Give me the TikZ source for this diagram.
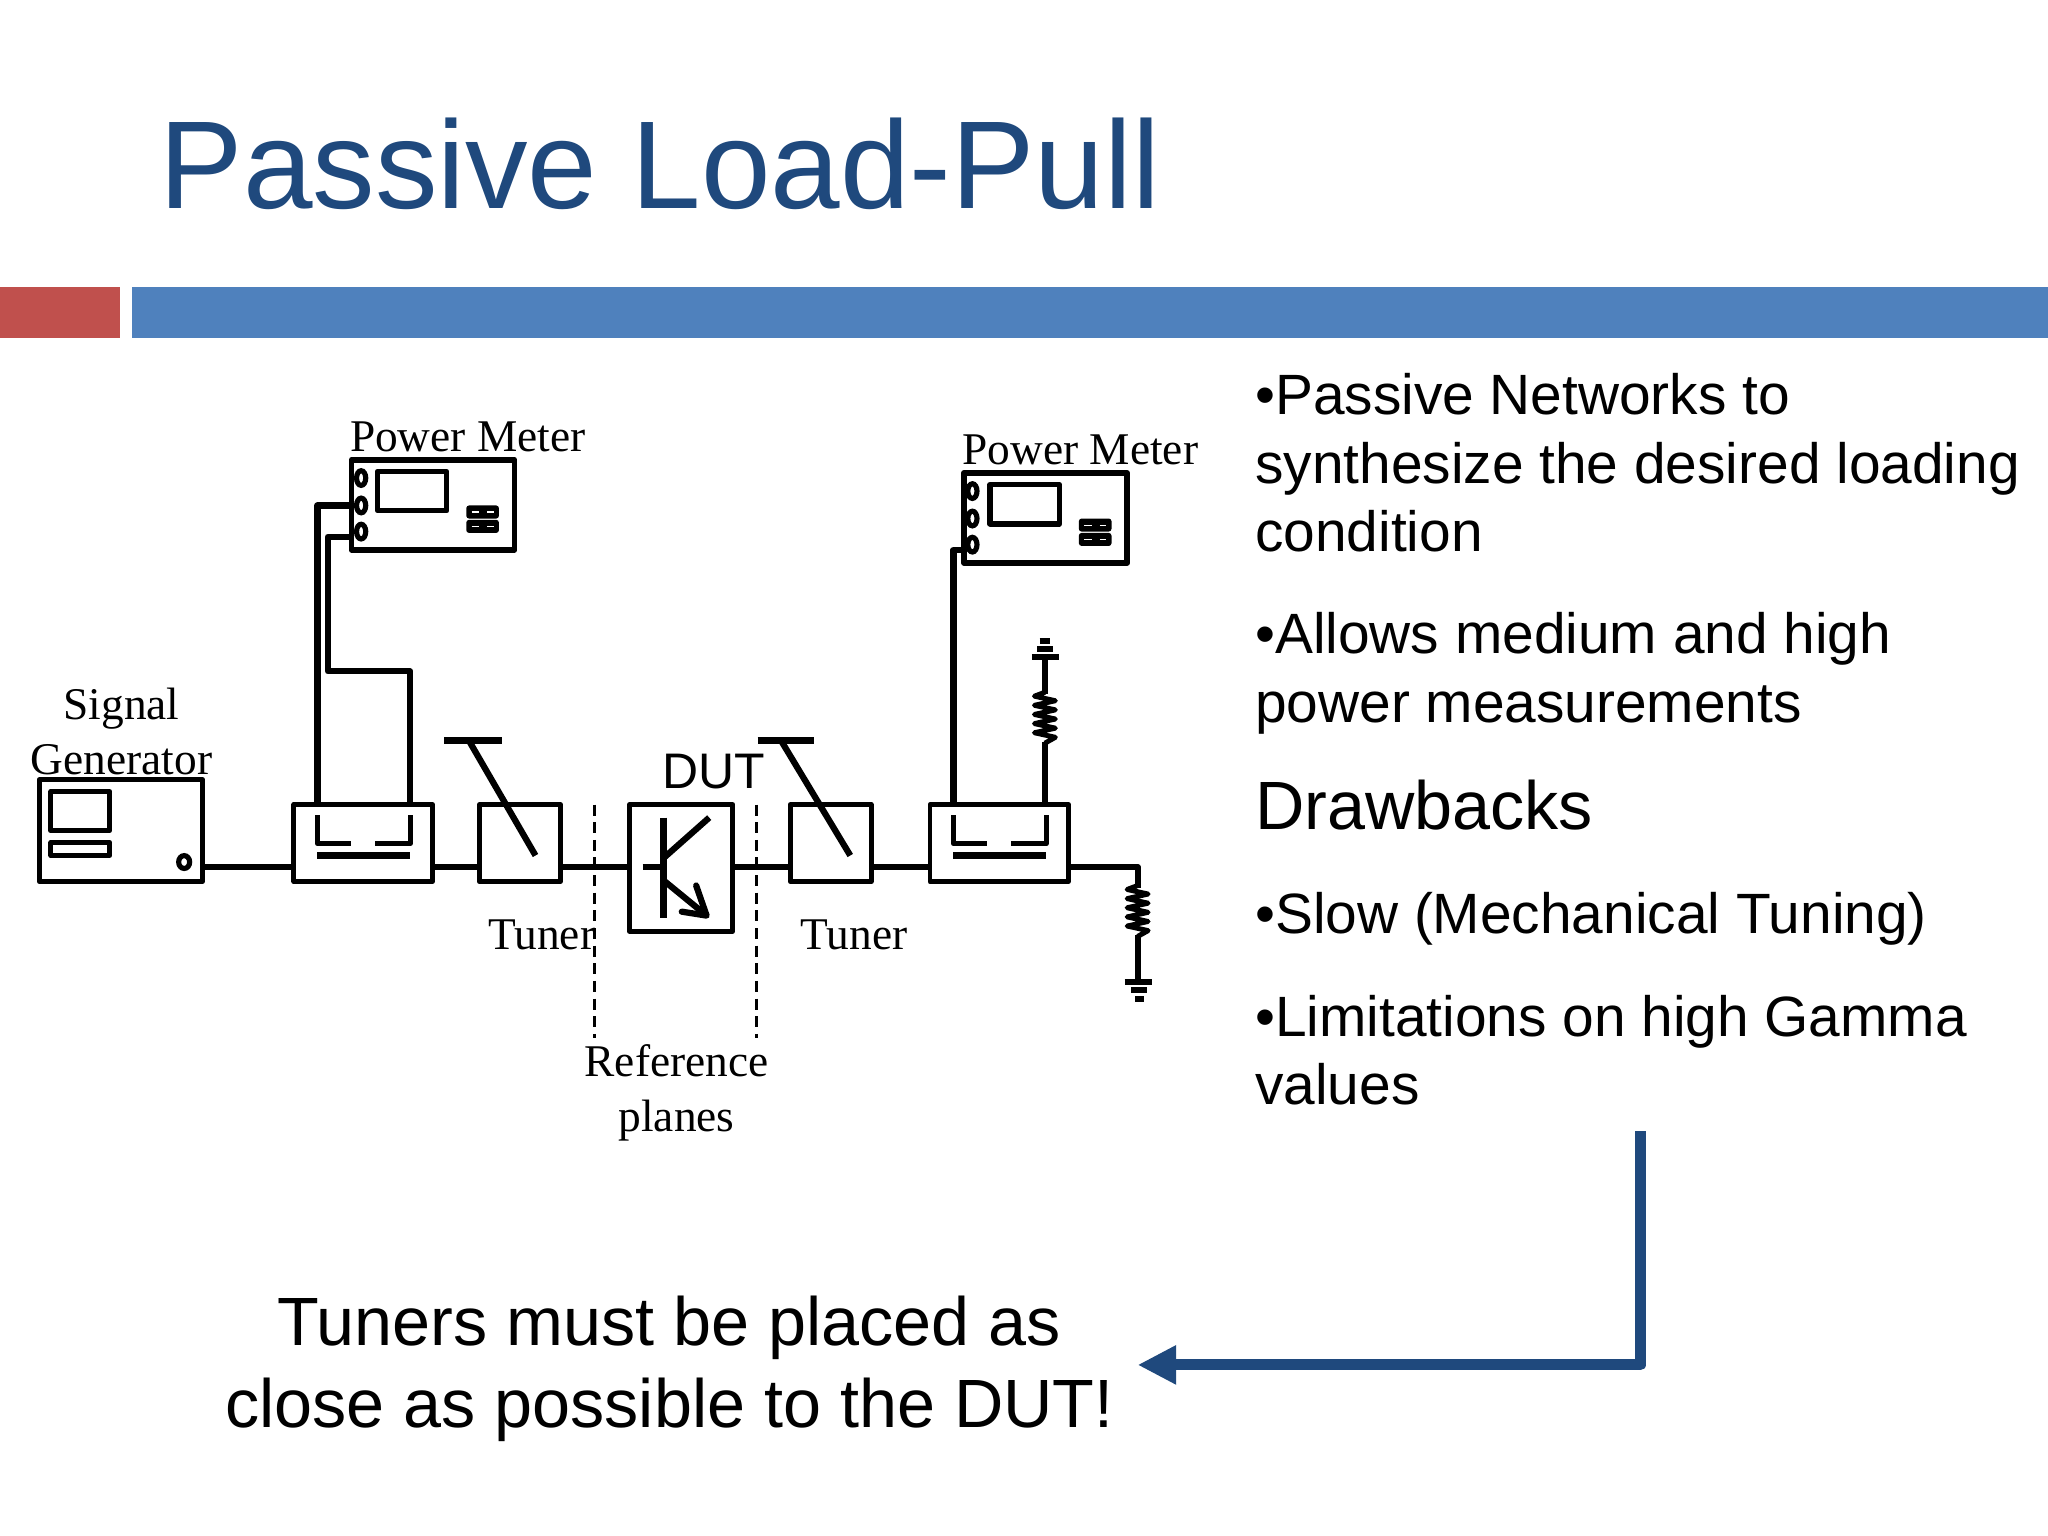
\documentclass[tikz,border=0pt]{standalone}
\usepackage{fontspec}
\setmainfont{Liberation Sans}
\newfontfamily\serifface{Liberation Serif}
\usetikzlibrary{arrows.meta,shapes.geometric}
\definecolor{titleblue}{HTML}{1F497D}
\definecolor{barblue}{HTML}{4F81BD}
\definecolor{barred}{HTML}{C0504D}
\tikzset{
  eq/.style={draw=black,line width=2.6pt,line join=round,inner sep=0pt,outer sep=0pt,fill=white},
  mbox/.style={eq,line width=3pt},
  sz/.style 2 args={minimum width=#1*0.025cm,minimum height=#2*0.025cm},
  wire/.style={draw=black,line width=3.4pt,line join=round},
  mwire/.style={draw=black,line width=3.4pt,line join=round},
  thinw/.style={draw=black,line width=2.7pt,line join=round},
  refline/.style={draw=black,line width=1.7pt,dash pattern=on 6pt off 3.6pt},
  lab/.style={font=\serifface\fontsize{24.7}{29.5}\selectfont,inner sep=0pt,outer sep=0pt,text=black},
  bodytxt/.style={font=\fontsize{30.95}{37.3}\selectfont,inner sep=0pt,outer sep=0pt,anchor=base west,align=left,text=black},
  big/.style={font=\fontsize{37.2}{45}\selectfont,inner sep=0pt,outer sep=0pt,text=black},
  port/.style={ellipse,draw=black,line width=2.8pt,fill=white,minimum width=5pt,minimum height=8pt,inner sep=0pt,outer sep=0pt},
}
\newcommand{\meter}[3]{%
  \node[mbox,sz={125}{69},anchor=north west] (#1) at (#2,#3) {};
  \begin{scope}[shift={(#2,#3)}]
    \draw[thinw,line width=3pt] (20,9) rectangle (73,39);
    \fill[black,rounded corners=1.5pt] (88,35) rectangle (113,45);
    \fill[black,rounded corners=1.5pt] (88,46) rectangle (113,56);
    \draw[white,line width=0.6pt] (92,40)--(98,40) (104,40)--(109,40) (92,51)--(98,51) (104,51)--(109,51);
  \end{scope}}
\newcommand{\ports}[3]{%
  \begin{scope}[shift={(#2,#3)}]
    \node[port] (#1a) at (7.5,14) {};
    \node[port] (#1b) at (7.5,35) {};
    \node[port] (#1c) at (7.5,55) {};
  \end{scope}}
\newcommand{\coupler}[3]{%
  \node[eq,sz={106}{59},anchor=north west] (#1) at (#2,#3) {};
  \begin{scope}[shift={(#2,#3)}]
    \draw[thinw] (18,8) -- (18,30) -- (44,30);
    \draw[thinw] (89,8) -- (89,30) -- (62,30);
    \draw[line width=3.4pt] (18,39) -- (89,39);
  \end{scope}}
\newcommand{\resist}[2]{%
  \begin{scope}[shift={(#1,#2)}]
    \draw[thinw] (0,-2) -- (-8,1) -- (8,4.5) -- (-8,8) -- (8,11.5) -- (-8,15) -- (8,18.5) -- (-8,22) -- (8,25.5) -- (-8,29) -- (8,32.5) -- (0,37);
  \end{scope}}
\begin{document}
\begin{tikzpicture}[x=0.025cm,y=-0.025cm]
\useasboundingbox (0,0) rectangle (1568,1176);
\fill[white] (0,0) rectangle (1568,1176);
% title and bars
\node[font=\fontsize{68.05}{80}\selectfont,text=titleblue,anchor=base west,inner sep=0pt] (title) at (122,160) {Passive Load-Pull};
\fill[barred] (0,220) rectangle (92,259);
\fill[barblue] (101,220) rectangle (1568,259);
% main line nodes
\coordinate (load) at (871,664);
\coordinate (loadr) at (871,680);
\coordinate (loadb) at (871,716);
\coordinate (loadg) at (871,752);
\coordinate (topr) at (800,568);
\coordinate (topa) at (800,531);
\coordinate (topg) at (800,503);
\coordinate (c1a) at (243,616);
\coordinate (c1b) at (314,616);
\coordinate (c2a) at (730,616);
\coordinate (c2b) at (800,616);
\coordinate (w1) at (243,387);
\coordinate (w2) at (314,514);
\coordinate (w3) at (251,514);
\coordinate (w4) at (251,411);
\coordinate (w5) at (730,421);
% wires under boxes
\draw[wire] (155,664) -- (225,664);
\draw[wire] (331,664) -- (367,664);
\draw[wire] (429,664) -- (482,664);
\draw[wire] (561,664) -- (605,664);
\draw[wire] (667,664) -- (712,664);
\draw[wire] (818,664) -- (load) -- (loadr);
\draw[wire] (loadb) -- (loadg);
\draw[wire] (c2b) -- (topr);
\draw[wire] (topa) -- (topg);
% equipment
\node[eq,sz={125}{78},anchor=north west] (gen) at (30,597) {};
\draw[thinw] (39,606) rectangle (84,636);
\draw[thinw] (39,645) rectangle (84,655);
\node[port,minimum width=6pt,minimum height=7pt] (genp) at (141,660) {};
\coupler{ca}{225}{616}
\coupler{cb}{712}{616}
\node[eq,sz={62}{59},anchor=north west] (tua) at (367,616) {};
\node[eq,sz={79}{97},anchor=north west] (dut) at (482,616) {};
\node[eq,sz={62}{59},anchor=north west] (tub) at (605,616) {};
\meter{pma}{269}{352}
\meter{pmb}{738}{362}
% meter wires
\draw[mwire] (c1a) -- (w1) -- (w1 -| pma.west);
\draw[mwire] (c1b) -- (w2) -- (w3) -- (w4) -- (w4 -| pma.west);
\draw[mwire] (c2a) -- (w5) -- (w5 -| pmb.west);
\ports{pma}{269}{352}
\ports{pmb}{737}{362}
% tuners
\draw[wire] (340,567) -- (384,567);
\draw[wire] (359,567) -- (410,655);
\draw[wire] (580,567) -- (623,567);
\draw[wire] (598,567) -- (651,655);
% transistor
\draw[wire] (492,664) -- (508,664);
\draw[line width=4pt] (508,626) -- (508,703);
\draw[wire] (508,657) -- (543,626);
\draw[wire] (508,674) -- (541,701);
\draw[wire,line cap=round] (533,678) -- (541,701) -- (522,698);
% resistors and grounds
\resist{871}{680}
\resist{800}{532}
\draw[line width=3.2pt] (861,752) -- (882,752);
\draw[line width=3.2pt] (866,758) -- (878,758);
\draw[line width=3.2pt] (869,765) -- (876,765);
\draw[line width=3.2pt] (790,503) -- (811,503);
\draw[line width=3.2pt] (794,497) -- (806,497);
\draw[line width=3.2pt] (796,491) -- (804,491);
% reference planes
\draw[refline] (455,616) -- (455,795);
\draw[refline] (579,616) -- (579,795);
% labels
\node[lab,anchor=base west] (lpma) at (268,346) {Power Meter};
\node[lab,anchor=base west] (lpmb) at (737,356) {Power Meter};
\node[lab,anchor=base] (lsig) at (93,551) {Signal};
\node[lab,anchor=base] (lgen) at (93,593) {Generator};
\node[lab,anchor=base west] (ltua) at (374,727) {Tuner};
\node[lab,anchor=base west] (ltub) at (613,727) {Tuner};
\node[lab,anchor=base] (lref) at (518,824) {Reference};
\node[lab,anchor=base] (lpla) at (518,866) {planes};
\node[font=\fontsize{27.2}{32}\selectfont,anchor=base west,inner sep=0pt] (ldut) at (507,604) {DUT};
% body text
\node[bodytxt] (b1) at (961,317) {•Passive Networks to};
\node[bodytxt] (b1b) at (961,370) {synthesize the desired loading};
\node[bodytxt] (b1c) at (961,422) {condition};
\node[bodytxt] (b2) at (961,500) {•Allows medium and high};
\node[bodytxt] (b2b) at (961,553) {power measurements};
\node[big,anchor=base west] (dr) at (961,635) {Drawbacks};
\node[bodytxt] (b3) at (961,715) {•Slow (Mechanical Tuning)};
\node[bodytxt] (b4) at (961,793.5) {•Limitations on high Gamma};
\node[bodytxt] (b4b) at (961,846) {values};
\node[big,anchor=base] (t1) at (512.5,1030) {Tuners must be placed as};
\node[big,anchor=base] (t2) at (512.5,1093) {close as possible to the DUT!};
% big arrow
\coordinate (as) at (1256,866);
\coordinate (ac) at (1256,1045);
\coordinate (ae) at (871,1045);
\draw[draw=titleblue,line width=6pt,line join=round,-{Triangle[length=21pt,width=20pt,fill=titleblue]}] (as) -- (ac) -- (ae);
\end{tikzpicture}
\end{document}
